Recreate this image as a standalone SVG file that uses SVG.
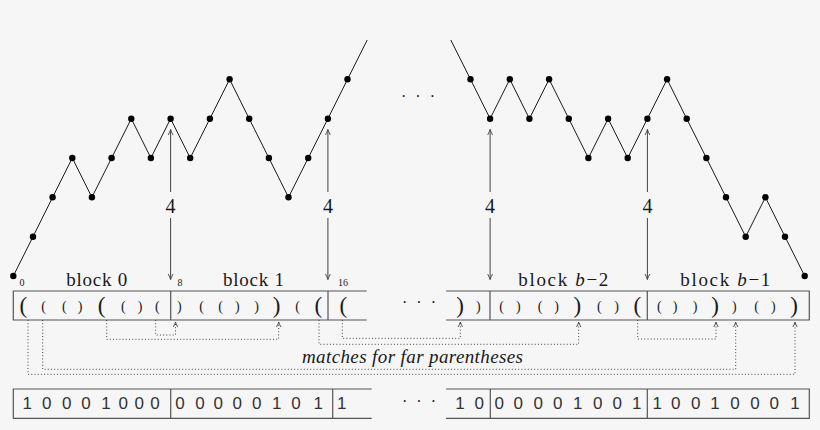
<svg xmlns="http://www.w3.org/2000/svg" width="820" height="430" viewBox="0 0 820 430">
<defs>
<style>
.bg{fill:#f6f6f6}
.mt{fill:none;stroke:#1a1a1a;stroke-width:1}
.pt{fill:#000}
.va{fill:none;stroke:#444;stroke-width:1;marker-end:url(#ah)}
.bar{fill:none;stroke:#555;stroke-width:1.2}
.dv{stroke:#555;stroke-width:1.2}
.mm{fill:none;stroke:#444;stroke-width:1;stroke-dasharray:1 2.2;marker-end:url(#ahd)}
text{font-family:'Liberation Serif','DejaVu Serif',serif;fill:#1a1a1a}
.blk{font-size:19px;text-anchor:middle}
.idx{font-size:10px;text-anchor:middle}
.four{font-size:20px;text-anchor:middle}
.ps{font-size:14px;text-anchor:middle}
.pb{font-size:23px;text-anchor:middle}
.bit text{font-family:'Liberation Sans',Arial,sans-serif;font-size:17px;fill:#333;text-anchor:middle}
.dots{font-size:16px;letter-spacing:9px}
</style>
<marker id="ah" viewBox="-6 -4 8 8" refX="0" refY="0" markerWidth="8" markerHeight="8" markerUnits="userSpaceOnUse" orient="auto">
<path d="M-5.5,-2.4 Q-2,-0.6 0,0 Q-2,0.6 -5.5,2.4" fill="none" stroke="#444" stroke-width="0.9"/>
</marker>
<marker id="ahd" viewBox="-6 -4 8 8" refX="0" refY="0" markerWidth="8" markerHeight="8" markerUnits="userSpaceOnUse" orient="auto">
<path d="M-5,-2.2 Q-2,-0.5 0,0 Q-2,0.5 -5,2.2" fill="none" stroke="#444" stroke-width="0.9"/>
</marker>
</defs>
<rect class="bg" x="0" y="0" width="820" height="430"/>

<g id="mountain-left">
<polyline class="mt" points="13.3,276 33,236.7 52.6,197.3 72.3,158 91.9,197.3 111.6,158 131.3,118.7 150.9,158 170.6,118.7 190.2,158 209.9,118.7 229.6,79.3 249.2,118.7 268.9,158 288.5,197.3 308.2,158 327.9,118.7 347.5,79.3 367.2,40"/>
<g class="pt">
<circle cx="13.3" cy="276" r="3.2"/><circle cx="33" cy="236.7" r="3.2"/><circle cx="52.6" cy="197.3" r="3.2"/><circle cx="72.3" cy="158" r="3.2"/><circle cx="91.9" cy="197.3" r="3.2"/><circle cx="111.6" cy="158" r="3.2"/><circle cx="131.3" cy="118.7" r="3.2"/><circle cx="150.9" cy="158" r="3.2"/><circle cx="170.6" cy="118.7" r="3.2"/><circle cx="190.2" cy="158" r="3.2"/><circle cx="209.9" cy="118.7" r="3.2"/><circle cx="229.6" cy="79.3" r="3.2"/><circle cx="249.2" cy="118.7" r="3.2"/><circle cx="268.9" cy="158" r="3.2"/><circle cx="288.5" cy="197.3" r="3.2"/><circle cx="308.2" cy="158" r="3.2"/><circle cx="327.9" cy="118.7" r="3.2"/><circle cx="347.5" cy="79.3" r="3.2"/>
</g>
</g>

<g id="mountain-right">
<polyline class="mt" points="450.8,40 470.5,79.3 490.1,118.7 509.8,79.3 529.4,118.7 549.1,79.3 568.8,118.7 588.4,158 608.1,118.7 627.7,158 647.4,118.7 667.1,79.3 686.7,118.7 706.4,158 726,197.3 745.7,236.7 765.4,197.3 785,236.7 804.7,276"/>
<g class="pt">
<circle cx="470.5" cy="79.3" r="3.2"/><circle cx="490.1" cy="118.7" r="3.2"/><circle cx="509.8" cy="79.3" r="3.2"/><circle cx="529.4" cy="118.7" r="3.2"/><circle cx="549.1" cy="79.3" r="3.2"/><circle cx="568.8" cy="118.7" r="3.2"/><circle cx="588.4" cy="158" r="3.2"/><circle cx="608.1" cy="118.7" r="3.2"/><circle cx="627.7" cy="158" r="3.2"/><circle cx="647.4" cy="118.7" r="3.2"/><circle cx="667.1" cy="79.3" r="3.2"/><circle cx="686.7" cy="118.7" r="3.2"/><circle cx="706.4" cy="158" r="3.2"/><circle cx="726" cy="197.3" r="3.2"/><circle cx="745.7" cy="236.7" r="3.2"/><circle cx="765.4" cy="197.3" r="3.2"/><circle cx="785" cy="236.7" r="3.2"/><circle cx="804.7" cy="276" r="3.2"/>
</g>
</g>

<text class="dots" x="401" y="102">···</text>

<g id="height-arrows">
<path class="va" d="M170.6,192 V129.5"/><path class="va" d="M170.6,218 V279.5"/>
<path class="va" d="M327.9,192 V129.5"/><path class="va" d="M327.9,218 V279.5"/>
<path class="va" d="M490.1,192 V129.5"/><path class="va" d="M490.1,218 V279.5"/>
<path class="va" d="M647.4,192 V129.5"/><path class="va" d="M647.4,218 V279.5"/>
</g>
<g id="height-labels">
<text class="four" x="170.6" y="213">4</text>
<text class="four" x="327.9" y="213">4</text>
<text class="four" x="490.1" y="213">4</text>
<text class="four" x="647.4" y="213">4</text>
</g>

<g id="block-labels">
<text class="idx" x="22" y="286">0</text>
<text class="idx" x="180" y="286">8</text>
<text class="idx" x="343" y="286">16</text>
<text class="blk" x="96.7" y="286" textLength="61" lengthAdjust="spacing">block 0</text>
<text class="blk" x="253.5" y="286" textLength="61" lengthAdjust="spacing">block 1</text>
<text class="blk" x="563.3" y="286" textLength="90" lengthAdjust="spacing">block <tspan font-style="italic">b</tspan>−2</text>
<text class="blk" x="725.3" y="286" textLength="90" lengthAdjust="spacing">block <tspan font-style="italic">b</tspan>−1</text>
</g>

<g id="paren-bar-left">
<path class="bar" d="M366.7,291 H13.3 V320 H366.7"/>
<line class="dv" x1="170.7" y1="291" x2="170.7" y2="320"/>
<line class="dv" x1="328" y1="291" x2="328" y2="320"/>
<g>
<text class="pb" x="23.3" y="312.6">(</text><text class="ps" x="43.7" y="311.1">(</text><text class="ps" x="64.3" y="311.1">(</text><text class="ps" x="80" y="311.1">)</text><text class="pb" x="101.7" y="312.6">(</text><text class="ps" x="123.3" y="311.1">(</text><text class="ps" x="140" y="311.1">)</text><text class="ps" x="157.3" y="311.1">(</text>
<text class="ps" x="179.3" y="311.1">)</text><text class="ps" x="201.7" y="311.1">(</text><text class="ps" x="220.7" y="311.1">(</text><text class="ps" x="237.3" y="311.1">)</text><text class="ps" x="256.7" y="311.1">)</text><text class="pb" x="276.7" y="312.6">)</text><text class="ps" x="297.7" y="311.1">(</text><text class="pb" x="318.3" y="312.6">(</text>
<text class="pb" x="343.3" y="312.6">(</text>
</g>
</g>
<text class="dots" x="402" y="308">···</text>
<g id="paren-bar-right">
<path class="bar" d="M446,291 H809.3 V320 H446"/>
<line class="dv" x1="490" y1="291" x2="490" y2="320"/>
<line class="dv" x1="647.3" y1="291" x2="647.3" y2="320"/>
<g>
<text class="pb" x="460" y="312.6">)</text><text class="ps" x="478.3" y="311.1">)</text>
<text class="ps" x="501.7" y="311.1">(</text><text class="ps" x="518.3" y="311.1">)</text><text class="ps" x="540" y="311.1">(</text><text class="ps" x="556.7" y="311.1">)</text><text class="pb" x="577.3" y="312.6">)</text><text class="ps" x="599.3" y="311.1">(</text><text class="ps" x="616.7" y="311.1">)</text><text class="pb" x="637.3" y="312.6">(</text>
<text class="ps" x="659.3" y="311.1">(</text><text class="ps" x="675" y="311.1">)</text><text class="ps" x="695" y="311.1">)</text><text class="pb" x="715" y="312.6">)</text><text class="ps" x="734.3" y="311.1">)</text><text class="ps" x="756.7" y="311.1">(</text><text class="ps" x="773.3" y="311.1">)</text><text class="pb" x="794" y="312.6">)</text>
</g>
</g>

<g id="matches">
<path class="mm" d="M28,320 V374.3 H795 V322"/>
<path class="mm" d="M42.7,320 V369.3 H735.7 V322"/>
<path class="mm" d="M106.7,320 V339.3 H278.7 V322"/>
<path class="mm" d="M155.7,320 V335 H175.5 V322"/>
<path class="mm" d="M319,320 V344.3 H578.7 V322"/>
<path class="mm" d="M342.3,320 V338.3 H460.3 V322"/>
<path class="mm" d="M637.7,320 V339 H716 V322"/>
</g>
<text x="412.5" y="363.3" font-size="19" font-style="italic" text-anchor="middle" textLength="221" lengthAdjust="spacing">matches for far parentheses</text>

<g id="bit-bar-left">
<path class="bar" d="M371.7,389 H13.3 V418.3 H371.7"/>
<line class="dv" x1="170.7" y1="389" x2="170.7" y2="418.3"/>
<line class="dv" x1="332.7" y1="389" x2="332.7" y2="418.3"/>
<g class="bit">
<text x="27.3" y="409">1</text><text x="46.7" y="409">0</text><text x="66.7" y="409">0</text><text x="86" y="409">0</text><text x="106" y="409">1</text><text x="123.3" y="409">0</text><text x="139.3" y="409">0</text><text x="155" y="409">0</text>
<text x="180" y="409">0</text><text x="200" y="409">0</text><text x="218.3" y="409">0</text><text x="237.3" y="409">0</text><text x="256.7" y="409">0</text><text x="276.7" y="409">1</text><text x="296" y="409">0</text><text x="318.3" y="409">1</text>
<text x="341.7" y="409">1</text>
</g>
</g>
<text class="dots" x="402" y="407">···</text>
<g id="bit-bar-right">
<path class="bar" d="M446,389 H809.3 V418.3 H446"/>
<line class="dv" x1="490.3" y1="389" x2="490.3" y2="418.3"/>
<line class="dv" x1="647.3" y1="389" x2="647.3" y2="418.3"/>
<g class="bit">
<text x="460" y="409">1</text><text x="479.3" y="409">0</text>
<text x="499.3" y="409">0</text><text x="518.3" y="409">0</text><text x="538.3" y="409">0</text><text x="557.7" y="409">0</text><text x="577.7" y="409">1</text><text x="597.7" y="409">0</text><text x="617.3" y="409">0</text><text x="636.7" y="409">1</text>
<text x="657.3" y="409">1</text><text x="675.7" y="409">0</text><text x="695.7" y="409">0</text><text x="715" y="409">1</text><text x="735" y="409">0</text><text x="755" y="409">0</text><text x="774.3" y="409">0</text><text x="795" y="409">1</text>
</g>
</g>
</svg>
